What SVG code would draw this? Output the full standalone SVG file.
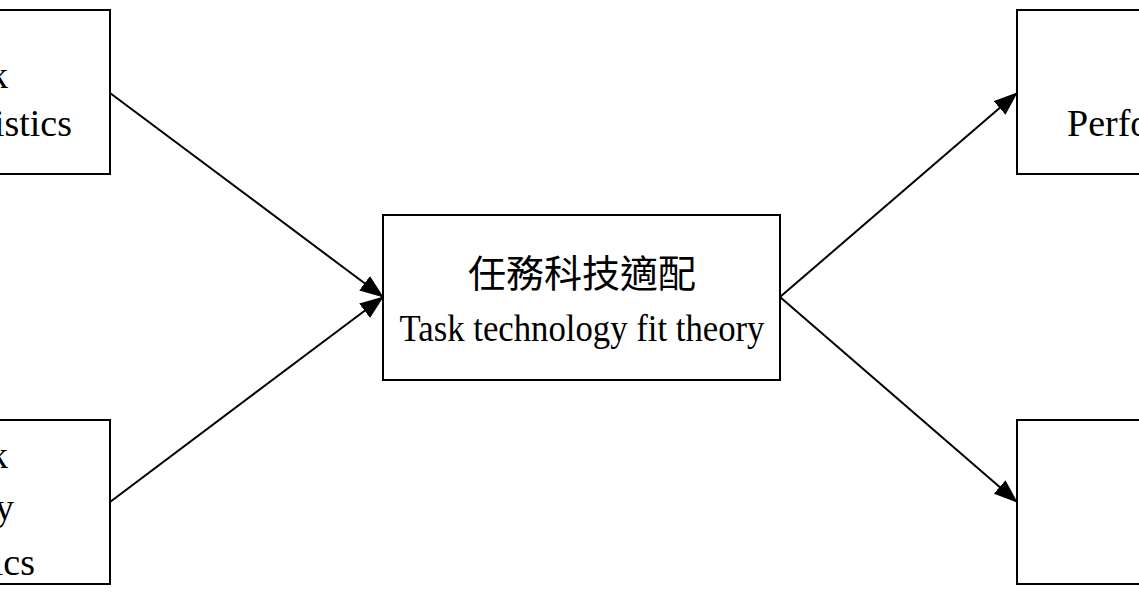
<svg xmlns="http://www.w3.org/2000/svg" width="1139" height="598" viewBox="0 0 1139 598">
<style>
.box{fill:#fff;stroke:#000;stroke-width:2}
.t{font-family:"Liberation Serif","Noto Sans CJK TC",serif;font-size:38px;fill:#000}
.c{stroke:#000;stroke-width:2;fill:none;marker-end:url(#ah)}
</style>
<defs><marker id="ah" markerWidth="24" markerHeight="18" refX="23" refY="9" orient="auto" markerUnits="userSpaceOnUse"><path d="M0,0 L24,9 L0,18 Z" fill="#000"/></marker></defs>
<rect width="1139" height="598" fill="#fff"/>
<g id="connectors">
<line class="c" x1="110" y1="93" x2="383" y2="297"/>
<line class="c" x1="110" y1="502" x2="383" y2="297"/>
<line class="c" x1="780" y1="297" x2="1017" y2="93"/>
<line class="c" x1="780" y1="297" x2="1017" y2="502"/>
</g>
<g id="task"><rect class="box" x="-10" y="10" width="120" height="164"/>
<text class="t" x="8" y="88" text-anchor="end">Task</text>
<text class="t" x="72" y="136" text-anchor="end">Characteristics</text></g>
<g id="tech"><rect class="box" x="-10" y="420" width="120" height="164"/>
<text class="t" x="8" y="468" text-anchor="end">Task</text>
<text class="t" x="14" y="520" text-anchor="end">Technology</text>
<text class="t" x="35" y="575" text-anchor="end">Characteristics</text></g>
<g id="ttf"><rect class="box" x="383" y="215" width="397" height="165"/>
<text class="t" x="582" y="287" text-anchor="middle">任務科技適配</text>
<text class="t" x="582" y="341" text-anchor="middle" textLength="365" lengthAdjust="spacingAndGlyphs">Task technology fit theory</text></g>
<g id="perf"><rect class="box" x="1017" y="10" width="140" height="164"/>
<text class="t" x="1067" y="136">Performance</text></g>
<g id="util"><rect class="box" x="1017" y="420" width="140" height="164"/></g>
</svg>
